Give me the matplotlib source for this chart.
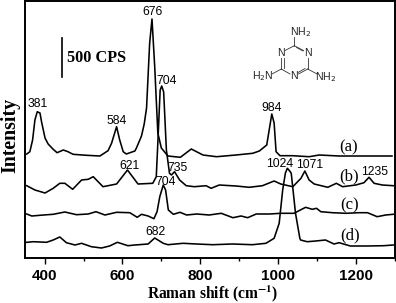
import matplotlib
matplotlib.use('Agg')
import matplotlib.pyplot as plt

# spectra, y is the picture row (axis is inverted)
wn_a = [354, 362, 369, 375, 381, 388, 392, 401, 409, 422, 432, 448, 460, 473, 508, 542, 563, 572, 585, 593, 602, 610,
        632, 636, 649, 656, 662, 670, 676, 683, 691, 700, 717, 734, 749, 777, 807, 842, 892, 935, 952, 971, 984, 990,
        995, 1005, 1037, 1080, 1106, 1157, 1208, 1293]
y_a = [154, 151.7, 140, 120, 111.7, 113, 121.7, 138, 144, 149.3, 152.7, 150, 151.7, 154.3, 155.3, 156, 150.7, 143.3,
       126.7, 140, 151.7, 154, 151, 148, 136, 124, 108, 43, 19, 66.7, 133, 148, 156, 156.7, 157.3, 149, 155, 156.7,
       155, 153.3, 151, 145, 114, 123, 151.7, 155.7, 155.7, 156.7, 155, 156, 156, 156]

wn_b = [354, 375, 401, 422, 439, 452, 472, 495, 512, 525, 550, 585, 613, 640, 678, 687, 691, 697, 701, 706, 713, 721,
        726, 734, 747, 764, 785, 815, 828, 849, 892, 926, 960, 990, 1007, 1038, 1059, 1069, 1080, 1093, 1128, 1150,
        1166, 1200, 1221, 1234, 1247, 1268, 1296]
y_b = [185.7, 190, 193, 188.3, 183.3, 183.3, 189.3, 180, 179.3, 176.7, 186.7, 184, 170, 184, 183.3, 176.7, 143, 90, 86,
       92, 150, 173.3, 175, 171.7, 180, 185.7, 186.7, 185.7, 188.3, 185, 186, 187.3, 185.7, 181, 184, 186.7, 178.3,
       171, 180, 184, 187.3, 183.3, 186.7, 185, 182.7, 177.3, 183.3, 185, 185.7]

wn_c = [354, 367, 397, 422, 452, 482, 512, 532, 555, 585, 619, 638, 649, 666, 681, 689, 696, 705, 711, 718, 731, 748,
        765, 791, 823, 854, 884, 905, 922, 944, 978, 1007, 1041, 1071, 1088, 1099, 1110, 1140, 1174, 1208, 1230, 1255,
        1277, 1296]
y_c = [214, 216, 215, 214.3, 212, 214.7, 214, 211.7, 215, 212.3, 212.7, 217.3, 214.3, 216, 218.7, 211.7, 196.7, 185,
       190, 210, 214.3, 212.3, 215, 214, 215, 213.3, 217.7, 216, 217.7, 214, 214, 213.3, 213.3, 207.3, 209.3, 208.3,
       211.7, 212.7, 213.3, 212.7, 212.7, 216.7, 215, 214.3]

wn_d = [354, 371, 405, 422, 439, 456, 478, 495, 520, 546, 567, 587, 614, 632, 666, 683, 705, 717, 756, 790, 832, 883,
        934, 969, 990, 1003, 1012, 1019, 1024, 1030, 1034, 1045, 1056, 1058, 1075, 1097, 1122, 1144, 1157, 1186, 1229,
        1272, 1296]
y_d = [242.3, 241.7, 242.3, 240, 237, 242.7, 245, 243.3, 246.7, 248, 246, 242.3, 245.7, 245, 244, 238, 243.3, 244.7,
       243.3, 244, 244.7, 244, 244.7, 243.3, 238.3, 223.3, 190, 173, 168.3, 171, 173.3, 213.3, 238, 240, 241.7, 241,
       240, 244, 242.7, 246, 246, 245.7, 245]

peak_labels = ['381', '584', '676', '704', '984', '621', '735', '704', '682', '1024', '1071', '1235']
peak_x = [38, 117, 152.7, 166.7, 272, 129, 178, 165.7, 155, 280, 310, 374.3]
peak_y = [104, 121, 12, 81, 107.7, 165.7, 168, 182, 231.7, 164, 164.7, 171.7]

curve_labels = ['(a)', '(b)', '(c)', '(d)']
curve_x = [349, 349.3, 349.3, 350]
curve_y = [147.3, 176.7, 205.7, 235.7]

W, H = 396, 303
fig = plt.figure(figsize=(W / 100, H / 100), dpi=100)
ax = fig.add_axes([25 / W, 1 - 258.3 / H, (394.7 - 25) / W, (258.3 - 1) / H])

for wn, y in [(wn_a, y_a), (wn_b, y_b), (wn_c, y_c), (wn_d, y_d)]:
    ax.plot(wn, y, color='black', lw=1.15, solid_joinstyle='round')

ax.set_xlim(349.5, 1297)
ax.set_ylim(258.3, 1)
ax.set_yticks([])
ax.set_xticks([400, 600, 800, 1000, 1200])
ax.set_xticks([500, 700, 900, 1100, 1300], minor=True)
ax.tick_params(axis='x', which='major', length=4.5, width=1, pad=3)
ax.tick_params(axis='x', which='minor', length=2.5, width=1)
for label in ax.get_xticklabels():
    label.set_fontfamily('Liberation Sans')
    label.set_fontweight('bold')
    label.set_fontsize(11)
for spine in ax.spines.values():
    spine.set_linewidth(1.4)

# overlay in picture pixels for the text and the molecule
ov = fig.add_axes([0, 0, 1, 1], facecolor='none')
ov.set_xlim(0, W)
ov.set_ylim(H, 0)
ov.axis('off')

for s, x, y in zip(peak_labels, peak_x, peak_y):
    ov.text(x, y, s, family='Liberation Sans', fontsize=8.8, ha='center', va='center')
for s, x, y in zip(curve_labels, curve_x, curve_y):
    ov.text(x, y, s, family='Liberation Serif', fontsize=12, ha='center', va='center')

ov.plot([62, 62], [38, 77], color='black', lw=1.2)
ov.text(67, 58, '500 CPS', family='Liberation Serif', weight='bold', fontsize=11.7, va='center')
ov.text(10.5, 135, 'Intensity', family='Liberation Serif', weight='bold', fontsize=14.3,
        rotation=90, ha='center', va='center')
ov.text(213, 294, 'Raman shift (cm$^{\\mathbf{-1}}$)', family='Liberation Serif', weight='bold', fontsize=11.2,
        ha='center', va='center', math_fontfamily='stix')

# melamine structure
bonds = [((294.3, 45.7), (285, 50.5)), ((294.3, 45.7), (303.5, 50.5)), ((281.3, 57.5), (281.3, 69)),
         ((283.8, 58), (283.8, 67.5)), ((307.7, 57.5), (307.7, 69)), ((281.3, 69), (290, 74)),
         ((307.7, 69), (298.5, 74)), ((305, 68.5), (298, 72.5)), ((296.5, 47.5), (303, 51)),
         ((294.3, 45.7), (294.3, 37)), ((281.3, 69), (272, 74)), ((307.7, 69), (317, 74))]
for p, q in bonds:
    ov.plot([p[0], q[0]], [p[1], q[1]], color='#333333', lw=0.6)
atoms = [('N', 281.3, 53.3), ('N', 307.7, 53.3), ('N', 294.3, 76), ('NH$_2$', 300.5, 32),
         ('H$_2$N', 262.7, 76), ('NH$_2$', 326, 77)]
for s, x, y in atoms:
    ov.text(x, y, s, family='Liberation Sans', fontsize=7.6, ha='center', va='center', color='#222222')

fig.savefig('out.png', dpi=100)
